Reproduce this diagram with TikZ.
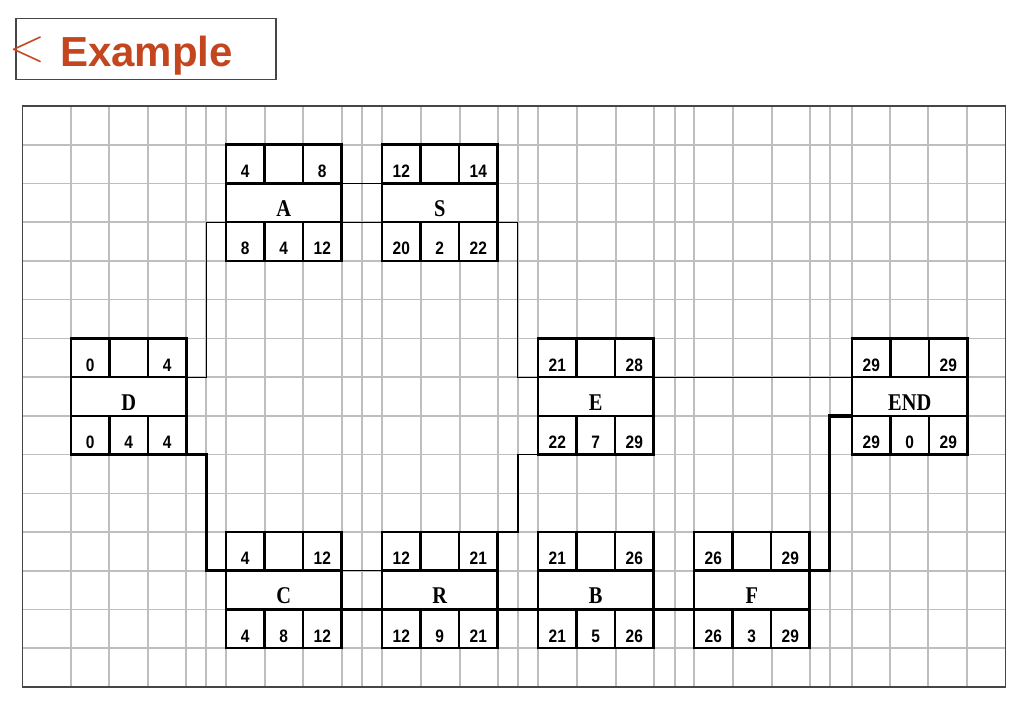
\documentclass[tikz,border=0pt]{standalone}
\usepackage{fontspec}
\newfontfamily\titlefont{Liberation Sans}
\newfontfamily\cellfont[FakeStretch=0.86]{Liberation Sans}
\newfontfamily\namefont[FakeStretch=0.85]{Liberation Serif}
\definecolor{titlered}{RGB}{195,70,30}
\definecolor{gridgray}{RGB}{190,190,190}
\definecolor{framegray}{RGB}{70,70,70}

\tikzset{
  numcell/.style={draw, line width=2.5pt, fill=white, minimum width=38.5pt,
    minimum height=38.73pt, inner sep=0pt, outer sep=0pt,
    text height=26.5pt, text depth=0pt,
    font=\cellfont\bfseries\fontsize{18}{18}\selectfont},
  namecell/.style={draw, line width=2.5pt, fill=white, minimum width=115.5pt,
    minimum height=38.73pt, inner sep=0pt, outer sep=0pt,
    text height=27pt, text depth=0pt,
    font=\namefont\bfseries\fontsize{24}{24}\selectfont},
  gridline/.style={draw=gridgray, line width=1.6pt},
  link/.style={line width=1.1pt},
  crit/.style={line width=3.5pt},
}

% one activity: name, left x, top y, label, ES, EF, LS, duration, LF
\newcommand{\activity}[9]{%
  \node[namecell] (#1) at (#2+57.75, #3+58.1) {#4};
  \node[numcell, anchor=south west] (#1-es) at (#1.north west) {#5};
  \node[numcell, anchor=west] (#1-sl) at (#1-es.east) {};
  \node[numcell, anchor=west] (#1-ef) at (#1-sl.east) {#6};
  \node[numcell, anchor=north west] (#1-ls) at (#1.south west) {#7};
  \node[numcell, anchor=west] (#1-du) at (#1-ls.east) {#8};
  \node[numcell, anchor=west] (#1-lf) at (#1-du.east) {#9};
}

\begin{document}
\begin{tikzpicture}[x=1pt, y=-1pt]
        \useasboundingbox (0,0) rectangle (1025,711);

        % Draw the title
        \draw[framegray, line width=1.2pt] (16,18.3) rectangle (276,79.3);
        \node[anchor=base west, inner sep=0pt, text=titlered,
          font=\fontsize{47}{47}\selectfont] (back) at (9.5,62) {<};
        \node[anchor=base west, inner sep=0pt, text=titlered,
          font=\titlefont\bfseries\fontsize{42}{42}\selectfont] (title) at (60,66.7) {Example};

        % Draw the grid
        \foreach \gx in {71,109,148,186,206,226,265,303,342,362,382,421,460,498,518,
                         538,577,616,654,675,694,733,772,810,830,852,890,928,967}
          \draw[gridline] (\gx,106) -- (\gx,687);
        \foreach \k in {1,...,14}
          \draw[gridline] (22.5,106+38.73*\k) -- (1005.5,106+38.73*\k);
        \draw[framegray, line width=1.6pt] (22.5,106) rectangle (1005.5,687);

        % Draw the activities
        \activity{D}{71}{338.4}{D}{0}{4}{0}{4}{4}
        \activity{A}{226}{144.7}{A}{4}{8}{8}{4}{12}
        \activity{S}{382}{144.7}{S}{12}{14}{20}{2}{22}
        \activity{E}{538}{338.4}{E}{21}{28}{22}{7}{29}
        \activity{END}{852}{338.4}{END}{29}{29}{29}{0}{29}
        \activity{C}{226}{532}{C}{4}{12}{4}{8}{12}
        \activity{R}{382}{532}{R}{12}{21}{12}{9}{21}
        \activity{B}{538}{532}{B}{21}{26}{21}{5}{26}
        \activity{F}{694}{532}{F}{26}{29}{26}{3}{29}

        % Draw the links, thick ones on the critical path
        \draw[link] (D.north east) -- ++(20,0) |- (A.south west);
        \draw[crit] (D-lf.south east) -- ++(20,0) |- (C.north west);
        \draw[link] (A.north east) -- (S.north west);
        \draw[link] (A.south east) -- (S.south west);
        \draw[link] (S.south east) -- ++(20,0) |- (E.north west);
        \draw[link] (E-ls.south west) -- ++(-20,0) |- (R-ef.north east);
        \draw[link] (E.north east) -- (END.north west);
        \draw[link] (C.north east) -- (R.north west);
        \draw[crit] (C.south east) -- (R.south west);
        \draw[crit] (R.south east) -- (B.south west);
        \draw[crit] (B.south east) -- (F.south west);
        \draw[crit] (F.north east) -- ++(20,0) |- (END.south west);
    \end{tikzpicture}
\end{document}
